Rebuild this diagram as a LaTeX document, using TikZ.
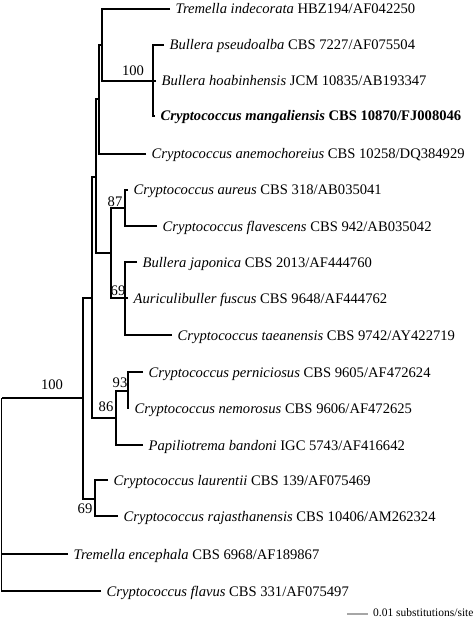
\documentclass[tikz,border=0pt]{standalone}
\usepackage{fontspec}
\setmainfont{Liberation Serif}
\usetikzlibrary{calc}
\tikzset{
  every node/.style = {font=\fontsize{14.6}{16}\selectfont, text=black},
  branch/.style     = {line width=1.7pt, draw=black},
  leaf/.style       = {anchor=west, inner xsep=5.5pt, inner ysep=0pt,
                       text height=12pt, text depth=2pt},
  boot/.style       = {inner sep=0pt},
  scalebar/.style   = {line width=1.2pt, draw=black!35},
}
\newcommand{\taxon}[2]{\textit{#1} #2}

\begin{document}
\begin{tikzpicture}[x=1pt, y=-1pt]
\useasboundingbox (0,0) rectangle (474,620);

% =========================================================================
% Internal nodes  (x = depth, y = where the parent branch joins)
% =========================================================================
\coordinate (root) at (1.5, 398);
\coordinate (nA)   at (83,  398);
\coordinate (nB)   at (92,  298);
\coordinate (nV)   at (96,  177);
\coordinate (nU)   at (99,   99);
\coordinate (nTre) at (102,  45);
\coordinate (nBul) at (153,  81);
\coordinate (nW)   at (111, 253);
\coordinate (n87)  at (125, 208);
\coordinate (n69a) at (125, 298);
\coordinate (n86)  at (116, 418);
\coordinate (n93)  at (128, 391);
\coordinate (n69b) at (95,  499);

% =========================================================================
% Leaves
% =========================================================================
\node[leaf] (tInd) at (170,   9) {\taxon{Tremella indecorata}{HBZ194/AF042250}};
\node[leaf] (bPse) at (164,  45) {\taxon{Bullera pseudoalba}{CBS 7227/AF075504}};
\node[leaf] (bHoa) at (156,  81) {\taxon{Bullera hoabinhensis}{JCM 10835/AB193347}};
\node[leaf] (cMan) at (155, 116) {\textbf{\taxon{Cryptococcus mangaliensis}{CBS 10870/FJ008046}}};
\node[leaf] (cAne) at (146, 154) {\taxon{Cryptococcus anemochoreius}{CBS 10258/DQ384929}};
\node[leaf] (cAur) at (128, 190) {\taxon{Cryptococcus aureus}{CBS 318/AB035041}};
\node[leaf] (cFla) at (157, 226) {\taxon{Cryptococcus flavescens}{CBS 942/AB035042}};
\node[leaf] (bJap) at (137, 262) {\taxon{Bullera japonica}{CBS 2013/AF444760}};
\node[leaf] (aFus) at (128, 298) {\taxon{Auriculibuller fuscus}{CBS 9648/AF444762}};
\node[leaf] (cTae) at (172, 335) {\taxon{Cryptococcus taeanensis}{CBS 9742/AY422719}};
\node[leaf] (cPer) at (143, 372) {\taxon{Cryptococcus perniciosus}{CBS 9605/AF472624}};
\node[leaf] (cNem) at (129, 408) {\taxon{Cryptococcus nemorosus}{CBS 9606/AF472625}};
\node[leaf] (pBan) at (143, 445) {\taxon{Papiliotrema bandoni}{IGC 5743/AF416642}};
\node[leaf] (cLau) at (108, 480) {\taxon{Cryptococcus laurentii}{CBS 139/AF075469}};
\node[leaf] (cRaj) at (118, 516) {\taxon{Cryptococcus rajasthanensis}{CBS 10406/AM262324}};
\node[leaf] (tEnc) at (68,  554) {\taxon{Tremella encephala}{CBS 6968/AF189867}};
\node[leaf] (cFlv) at (101, 591) {\taxon{Cryptococcus flavus}{CBS 331/AF075497}};

% =========================================================================
% Branches (child -| parent)
% =========================================================================
\draw[branch] (bPse.west) -| (nBul);
\draw[branch] (bHoa.west) -| (nBul);
\draw[branch] (cMan.west) -| (nBul);
\draw[branch] (tInd.west) -| (nTre);
\draw[branch] (nBul)      -| (nTre);
\draw[branch] (nTre)      -| (nU);
\draw[branch] (cAne.west) -| (nU);

\draw[branch] (cAur.west) -| (n87);
\draw[branch] (cFla.west) -| (n87);
\draw[branch] (bJap.west) -| (n69a);
\draw[branch] (aFus.west) -| (n69a);
\draw[branch] (cTae.west) -| (n69a);
\draw[branch] (n87)       -| (nW);
\draw[branch] (n69a)      -| (nW);
\draw[branch] (nU)        -| (nV);
\draw[branch] (nW)        -| (nV);

\draw[branch] (cPer.west) -| (n93);
\draw[branch] (cNem.west) -| (n93);
\draw[branch] (n93)       -| (n86);
\draw[branch] (pBan.west) -| (n86);
\draw[branch] (nV)        -| (nB);
\draw[branch] (n86)       -| (nB);

\draw[branch] (cLau.west) -| (n69b);
\draw[branch] (cRaj.west) -| (n69b);
\draw[branch] (nB)        -| (nA);
\draw[branch] (n69b)      -| (nA);

\draw[branch] (nA)        -| (root);
\draw[branch] (tEnc.west) -| (root);
\draw[branch] (cFlv.west) -| (root);

% =========================================================================
% Bootstrap values
% =========================================================================
\node[boot] (bs100a) at ($(nBul) + (-20, -10)$) {100};
\node[boot] (bs87)   at ($(n87)  + (-10,  -6)$) {87};
\node[boot] (bs69a)  at ($(n69a) + (-7,   -7)$) {69};
\node[boot] (bs93)   at ($(n93)  + (-8,   -8)$) {93};
\node[boot] (bs86)   at ($(n86)  + (-10, -11)$) {86};
\node[boot] (bs100b) at ($(nA)   + (-31, -13)$) {100};
\node[boot] (bs69b)  at ($(n69b) + (-10,  10)$) {69};

% =========================================================================
% Scale bar
% =========================================================================
\coordinate (sbL) at (347, 614);
\coordinate (sbR) at (368, 614);
\draw[scalebar] (sbL) -- (sbR);
\node[anchor=base west, inner sep=0pt, font=\fontsize{11.5}{13}\selectfont]
  (sbText) at (373, 616) {0.01 substitutions/site};

\end{tikzpicture}
\end{document}
